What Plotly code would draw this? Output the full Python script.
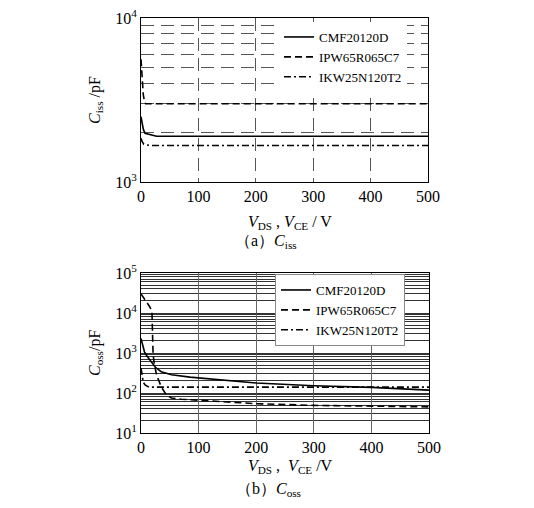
import plotly.graph_objects as go

# (a) Ciss vs VDS/VCE  (pF)
v_ciss_cmf = [0, 2, 4, 7, 15, 27, 100, 200, 300, 400, 500]
ciss_cmf = [2500, 2250, 2100, 1980, 1940, 1900, 1900, 1900, 1900, 1900, 1900]
v_ciss_ipw = [0, 1, 2, 4, 6, 8, 100, 200, 300, 400, 500]
ciss_ipw = [5600, 4800, 4000, 3400, 3100, 3000, 3000, 3000, 3000, 3000, 3000]
v_ciss_ikw = [0, 2, 5, 10, 20, 100, 200, 300, 400, 500]
ciss_ikw = [1850, 1760, 1700, 1680, 1670, 1670, 1670, 1670, 1670, 1670]

# (b) Coss vs VDS/VCE  (pF)
v_coss_cmf = [0, 3, 6, 10, 15, 20, 25, 35, 53, 85, 150, 200, 300, 400, 500]
coss_cmf = [2300, 1500, 1070, 850, 670, 540, 440, 340, 285, 250, 205, 178, 152, 138, 118]
v_coss_ipw = [0, 3, 6, 10, 15, 19, 20, 21, 23, 27, 35, 44, 53, 70, 100, 150, 200, 300, 400, 500]
coss_ipw = [30000, 26000, 22000, 18000, 14500, 11000, 5000, 900, 560, 280, 145, 89, 75, 70,
            66, 60, 54, 49, 47, 45]
v_coss_ikw = [0, 2, 4, 7, 10, 14, 20, 100, 200, 300, 400, 500]
coss_ikw = [420, 230, 185, 160, 148, 140, 140, 140, 140, 140, 140, 140]

names = ["CMF20120D", "IPW65R065C7", "IKW25N120T2"]
dashes = ["solid", "7px,4px", "7px,3px,2px,3px"]
x_ticks = [0, 100, 200, 300, 400, 500]

FONT = "Liberation Serif"
# the page body keeps an 8px margin, so the figure is a bit smaller than the window
PAD = 8
W, H = 534 - 2 * PAD, 492

fig = go.Figure()

ciss_sets = [(v_ciss_cmf, ciss_cmf), (v_ciss_ipw, ciss_ipw), (v_ciss_ikw, ciss_ikw)]
coss_sets = [(v_coss_cmf, coss_cmf), (v_coss_ipw, coss_ipw), (v_coss_ikw, coss_ikw)]

for (vx, vy), name, dash in zip(ciss_sets, names, dashes):
    fig.add_trace(go.Scatter(
        x=vx, y=vy, mode="lines", name=name,
        line=dict(color="black", width=1.6, dash=dash),
        xaxis="x", yaxis="y", legend="legend"
    ))

for (vx, vy), name, dash in zip(coss_sets, names, dashes):
    fig.add_trace(go.Scatter(
        x=vx, y=vy, mode="lines", name=name,
        line=dict(color="black", width=1.6, dash=dash),
        xaxis="x2", yaxis="y2", legend="legend2"
    ))


def px_x(p):
    # window pixel -> paper fraction
    return (p - PAD) / W


def px_y(p):
    return 1 - (p - PAD) / H


common_x = dict(
    range=[0, 500], tickvals=x_ticks, ticks="", showline=True, mirror=True,
    linecolor="black", linewidth=1, zeroline=False,
    tickfont=dict(family=FONT, size=16, color="black"),
    automargin=False,
)

fig.update_layout(
    width=W, height=H,
    margin=dict(l=0, r=0, t=0, b=0),
    paper_bgcolor="white", plot_bgcolor="white",
    font=dict(family=FONT, size=13, color="black"),
    xaxis=dict(
        common_x, domain=[px_x(141), px_x(428)], anchor="y",
        showgrid=True, gridcolor="#555", gridwidth=1, griddash="13px,7px",
    ),
    yaxis=dict(
        type="log", range=[3, 4], domain=[px_y(182), px_y(18)], anchor="x",
        tickvals=[1000, 10000], ticktext=["10<sup>3</sup>", "10<sup>4</sup>"],
        ticks="", showline=True, mirror=True, linecolor="black", linewidth=1,
        showgrid=False, zeroline=False, automargin=False,
        ticklabeloverflow="allow",
        tickfont=dict(family=FONT, size=16, color="black"),
        minor=dict(dtick="D1", showgrid=True, gridcolor="#555", gridwidth=1,
                   griddash="13px,7px", ticks=""),
    ),
    xaxis2=dict(
        common_x, domain=[px_x(141), px_x(429)], anchor="y2",
        showgrid=True, gridcolor="#666", gridwidth=1,
    ),
    yaxis2=dict(
        type="log", range=[1, 5], domain=[px_y(433), px_y(273)], anchor="x2",
        tickvals=[10, 100, 1000, 10000, 100000],
        ticktext=["10<sup>1</sup>", "10<sup>2</sup>", "10<sup>3</sup>",
                  "10<sup>4</sup>", "10<sup>5</sup>"],
        ticks="", showline=True, mirror=True, linecolor="black", linewidth=1,
        showgrid=True, gridcolor="#333", gridwidth=1, zeroline=False,
        automargin=False,
        tickfont=dict(family=FONT, size=16, color="black"),
        minor=dict(dtick="D1", showgrid=True, gridcolor="#333", gridwidth=1,
                   ticks=""),
    ),
    legend=dict(
        x=px_x(279), y=px_y(22), xanchor="left", yanchor="top",
        bgcolor="white", borderwidth=0,
        font=dict(family=FONT, size=13, color="black"),
        tracegroupgap=0,
    ),
    legend2=dict(
        x=px_x(275), y=px_y(274), xanchor="left", yanchor="top",
        bgcolor="white", bordercolor="#888", borderwidth=1,
        font=dict(family=FONT, size=13, color="black"),
        tracegroupgap=0,
    ),
)

annots = [
    (95, 100, "<i>C</i><sub>iss</sub> /pF", -90),
    (95, 353, "<i>C</i><sub>oss</sub>/pF", -90),
    (290, 222, "<i>V</i><sub>DS</sub> , <i>V</i><sub>CE</sub> / V", 0),
    (290, 466, "<i>V</i><sub>DS</sub> ,  <i>V</i><sub>CE</sub> /V", 0),
    (266, 241, "（a）<i>C</i><sub>iss</sub>", 0),
    (268, 489, "（b）<i>C</i><sub>oss</sub>", 0),
]
for ax, ay, txt, ang in annots:
    fig.add_annotation(
        x=px_x(ax), y=px_y(ay), xref="paper", yref="paper",
        text=txt, showarrow=False, textangle=ang,
        xanchor="center", yanchor="middle",
        font=dict(family=FONT, size=16, color="black"),
    )

fig.write_html("out.html")
